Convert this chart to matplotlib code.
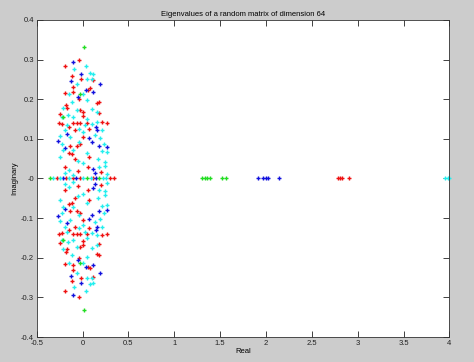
import matplotlib
matplotlib.use("Agg")
import matplotlib.pyplot as plt
import numpy as np

plt.rcParams['font.family'] = ['Liberation Sans', 'DejaVu Sans']

# eigenvalues come in conjugate pairs: only the upper half (imag > 0) is listed,
# the lower half is drawn with the sign of the imaginary part flipped
red_re = [-0.035, -0.195, -0.111, -0.020, 0.118, -0.100, 0.082, 0.064, -0.191, -0.107,
          -0.035, 0.155, 0.180, -0.180, -0.173, -0.027, 0.009, -0.245, 0.009, 0.184,
          -0.256, -0.227, -0.100, -0.064, -0.027, 0.053, 0.209, 0.271, -0.144, -0.082,
          0.075, 0.009, -0.136, -0.064, -0.027, -0.144, -0.118, 0.075, -0.082, 0.064,
          -0.191, -0.045, 0.198]
red_im = [0.300, 0.283, 0.259, 0.252, 0.248, 0.231, 0.227, 0.223, 0.216, 0.218,
          0.201, 0.191, 0.194, 0.185, 0.179, 0.172, 0.168, 0.162, 0.157, 0.166,
          0.139, 0.137, 0.140, 0.140, 0.140, 0.139, 0.143, 0.140, 0.129, 0.122,
          0.124, 0.105, 0.082, 0.082, 0.087, 0.065, 0.061, 0.055, 0.050, 0.029,
          0.028, 0.019, 0.017]

blue_re = [-0.100, -0.020, -0.122, 0.191, 0.038, 0.118, -0.045, 0.147, 0.155, -0.165,
           0.075, 0.100, -0.267, 0.184, 0.264, -0.187, 0.118, 0.136]
blue_im = [0.294, 0.263, 0.246, 0.238, 0.223, 0.218, 0.206, 0.130, 0.122, 0.112,
           0.101, 0.092, 0.095, 0.082, 0.080, 0.076, 0.025, 0.014]

cyan_re = [0.038, -0.089, 0.082, 0.111, 0.045, 0.100, -0.064, -0.144, 0.009, 0.053,
           -0.118, -0.216, -0.064, 0.100, 0.155, -0.227, -0.155, -0.100, 0.053, -0.173,
           0.027, 0.100, 0.155, -0.191, -0.035, 0.009, 0.209, -0.245, -0.136, 0.136,
           0.191, -0.227, -0.042, 0.235, -0.209, -0.100, 0.045, 0.209, 0.264, -0.245,
           -0.045, 0.009, 0.173, 0.245, -0.144, 0.184, 0.245, -0.107, 0.271, -0.191]
cyan_im = [0.283, 0.275, 0.265, 0.263, 0.251, 0.250, 0.238, 0.213, 0.213, 0.199,
           0.193, 0.179, 0.172, 0.176, 0.168, 0.154, 0.160, 0.154, 0.151, 0.134,
           0.134, 0.137, 0.143, 0.122, 0.126, 0.118, 0.122, 0.107, 0.105, 0.109,
           0.103, 0.088, 0.092, 0.088, 0.071, 0.071, 0.063, 0.070, 0.067, 0.055,
           0.045, 0.039, 0.050, 0.042, 0.021, 0.029, 0.031, 0.008, 0.011, 0.014]

green_re = [0.016, -0.027, -0.209]
green_im = [0.332, 0.214, 0.154]

# real eigenvalues
red_real = [-0.275, -0.180, -0.107, -0.027, 0.118, 0.300, 0.344, 2.79, 2.81, 2.83, 2.91]
blue_real = [-0.216, -0.071, 0.147, 1.91, 1.965, 2.00, 2.02, 2.146]
cyan_real = [-0.325, -0.245, -0.144, 0.009, 0.089, 0.220, 0.256, 3.95, 3.98, 4.00]
green_real = [-0.355, 0.053, 0.184, 1.30, 1.33, 1.36, 1.39, 1.52, 1.56]

series = [
    (red_re, red_im, red_real, '#ee1111'),
    (blue_re, blue_im, blue_real, '#1111dd'),
    (cyan_re, cyan_im, cyan_real, '#22eeee'),
    (green_re, green_im, green_real, '#22dd22'),
]

fig = plt.figure(figsize=(4.74, 3.62), dpi=100, facecolor='#cccccc')
ax = fig.add_axes([0.0774, 0.069, 0.8706, 0.876])
ax.set_facecolor('white')

for re, im, real, col in series:
    re = np.array(re)
    im = np.array(im)
    xs = np.concatenate([re, re, real])
    ys = np.concatenate([im, -im, np.zeros(len(real))])
    ax.plot(xs, ys, '+', color=col, markersize=3.5, markeredgewidth=1.0, clip_on=False)

ax.set_xlim(-0.5, 4)
ax.set_ylim(-0.4, 0.4)
xt = np.arange(-0.5, 4.01, 0.5)
yt = np.arange(-0.4, 0.401, 0.1)
ax.set_xticks(xt)
ax.set_yticks(yt)
ax.set_xticklabels(['%g' % round(v, 2) for v in xt])
ax.set_yticklabels(['%g' % round(v, 2) for v in yt])
ax.tick_params(direction='in', length=4, width=0.6, top=True, right=True,
               labelsize=5.5, pad=2, colors='#222222')
for s in ax.spines.values():
    s.set_linewidth(0.6)
    s.set_color('#333333')

ax.set_title('Eigenvalues of a random matrix of dimension 64', fontsize=5.5, pad=3)
ax.set_xlabel('Real', fontsize=5.5, labelpad=1)
ax.set_ylabel('Imaginary', fontsize=5.5, labelpad=2)

fig.savefig('out.png', dpi=100, facecolor=fig.get_facecolor())
